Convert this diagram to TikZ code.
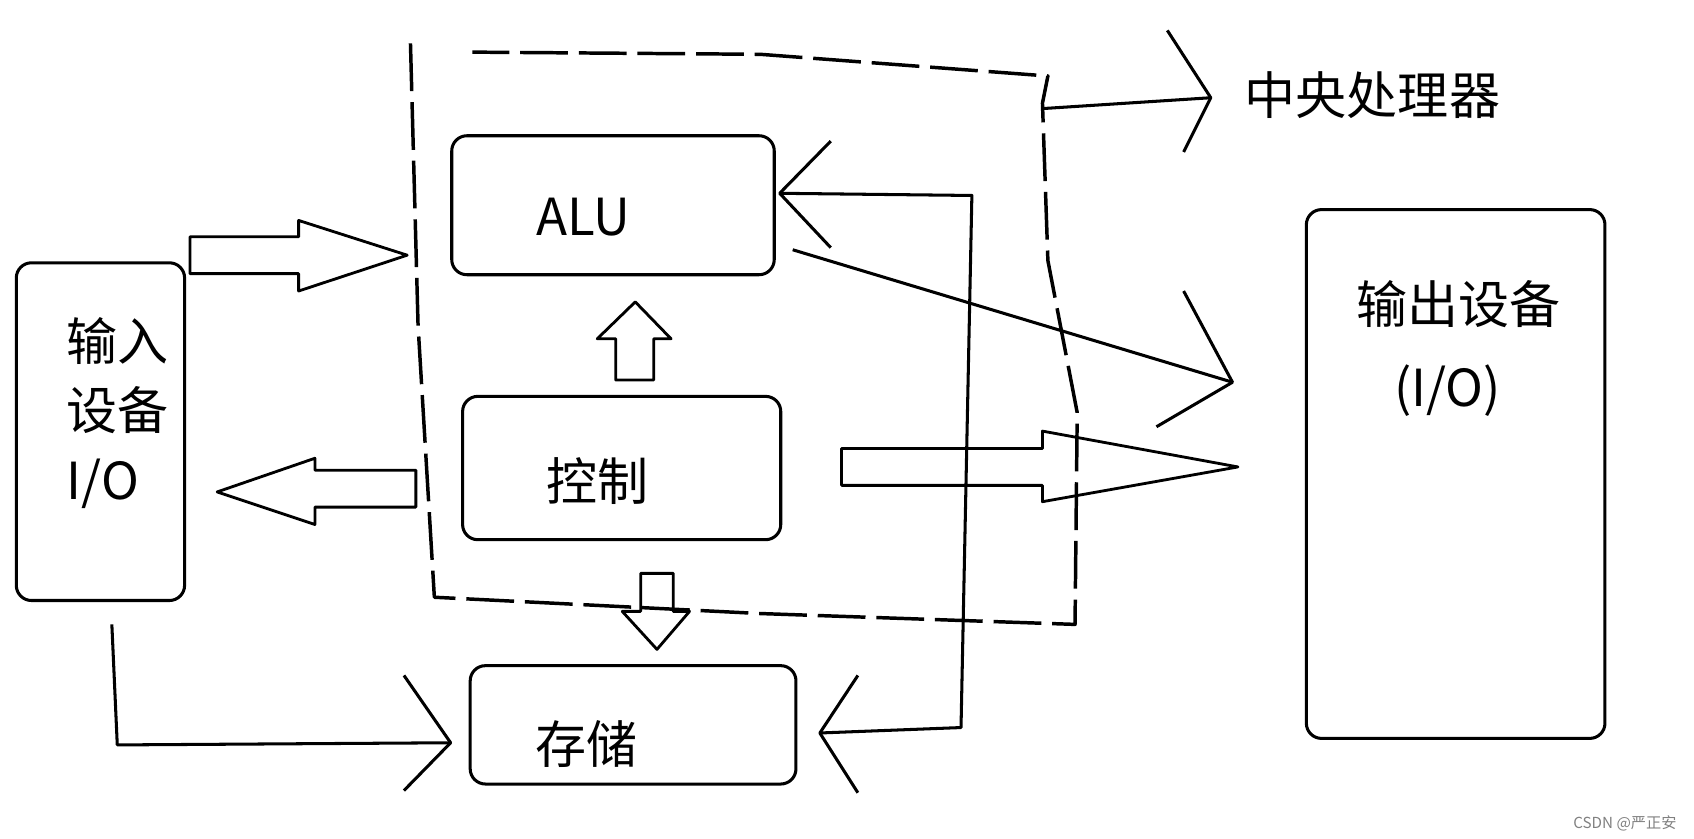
\documentclass[tikz,border=0pt]{standalone}
\usepackage{fontspec}
\setmainfont{Noto Sans CJK SC}
\begin{document}
\begin{tikzpicture}[x=0.5pt,y=-0.5pt,line width=1.4pt,line join=round,
  box/.style={draw,rounded corners=7pt,inner sep=0pt},
  txt/.style={font=\fontsize{23.5}{28}\selectfont,inner sep=0pt},
  blk/.style={draw,line width=1.3pt}]
\useasboundingbox (0,0) rectangle (1560,772);
% boxes
\node[box,minimum width=155*0.5pt,minimum height=311*0.5pt] (in) at (92.5,397.5) {};
\node[box,minimum width=297*0.5pt,minimum height=128*0.5pt] (alu) at (564.5,189) {};
\node[box,minimum width=293*0.5pt,minimum height=132*0.5pt] (ctl) at (572.5,431) {};
\node[box,minimum width=300*0.5pt,minimum height=109*0.5pt] (mem) at (583,667.5) {};
\node[box,minimum width=275*0.5pt,minimum height=487*0.5pt] (out) at (1340.5,436.5) {};
% texts
\node[txt,align=left,anchor=west] (intxt) at (60,380) {输入\\[4pt]设备\\[4pt]I/O};
\node[txt] (alut) at (537,200) {ALU};
\node[txt] (ctlt) at (550,443) {控制};
\node[txt] (memt) at (540,685) {存储};
\node[txt] (outt1) at (1343,280) {输出设备};
\node[txt] (outt2) at (1333,360) {(I/O)};
\node[txt,anchor=west] (cpu) at (1145,88) {中央处理器};
\node[font=\fontsize{7}{8}\selectfont,text=gray,anchor=east] (wm) at (1552,758) {CSDN @严正安};
% dashed CPU boundary
\draw[dashed,dash pattern=on 22pt off 5pt,line width=1.6pt] (378,40) -- (385,300) -- (400,550) -- (700,565) -- (990,575) -- (992,380) -- (965,240) -- (960,95) -- (965,70) -- (700,50) -- (435,48);
% bracket to 中央处理器
\coordinate (c1) at (960,100);
\coordinate (c2) at (1115,90);
\draw (c1) -- (c2);
\draw (1075,28) -- (c2) -- (1090,140);
% block arrows
\draw[blk] (175,218) -- (275,218) -- (275,203) -- (375,235) -- (275,268) -- (275,252) -- (175,252) -- cycle;
\draw[blk] (383,433) -- (290,433) -- (290,422) -- (200,453) -- (290,483) -- (290,467) -- (383,467) -- cycle;
\draw[blk] (567,350) -- (567,312) -- (550,312) -- (585,278) -- (618,312) -- (602,312) -- (602,350) -- cycle;
\draw[blk] (590,528) -- (590,563) -- (573,563) -- (605,598) -- (635,563) -- (620,563) -- (620,528) -- cycle;
\draw[blk] (775,413) -- (960,413) -- (960,397) -- (1140,430) -- (960,462) -- (960,447) -- (775,447) -- cycle;
% ALU -> output
\coordinate (o1) at (1135,352);
\draw (730,230) -- (o1);
\draw (1090,268) -- (o1) -- (1065,393);
% feedback memory/ALU
\coordinate (a1) at (718,178);
\coordinate (m1) at (755,675);
\draw (m1) -- (885,670) -- (895,180) -- (a1);
\draw (765,130) -- (a1) -- (765,228);
\draw (790,622) -- (m1) -- (790,730);
% input -> memory
\coordinate (m2) at (415,684);
\draw (103,575) -- (108,686) -- (m2);
\draw (372,622) -- (m2) -- (372,728);
\end{tikzpicture}
\end{document}
